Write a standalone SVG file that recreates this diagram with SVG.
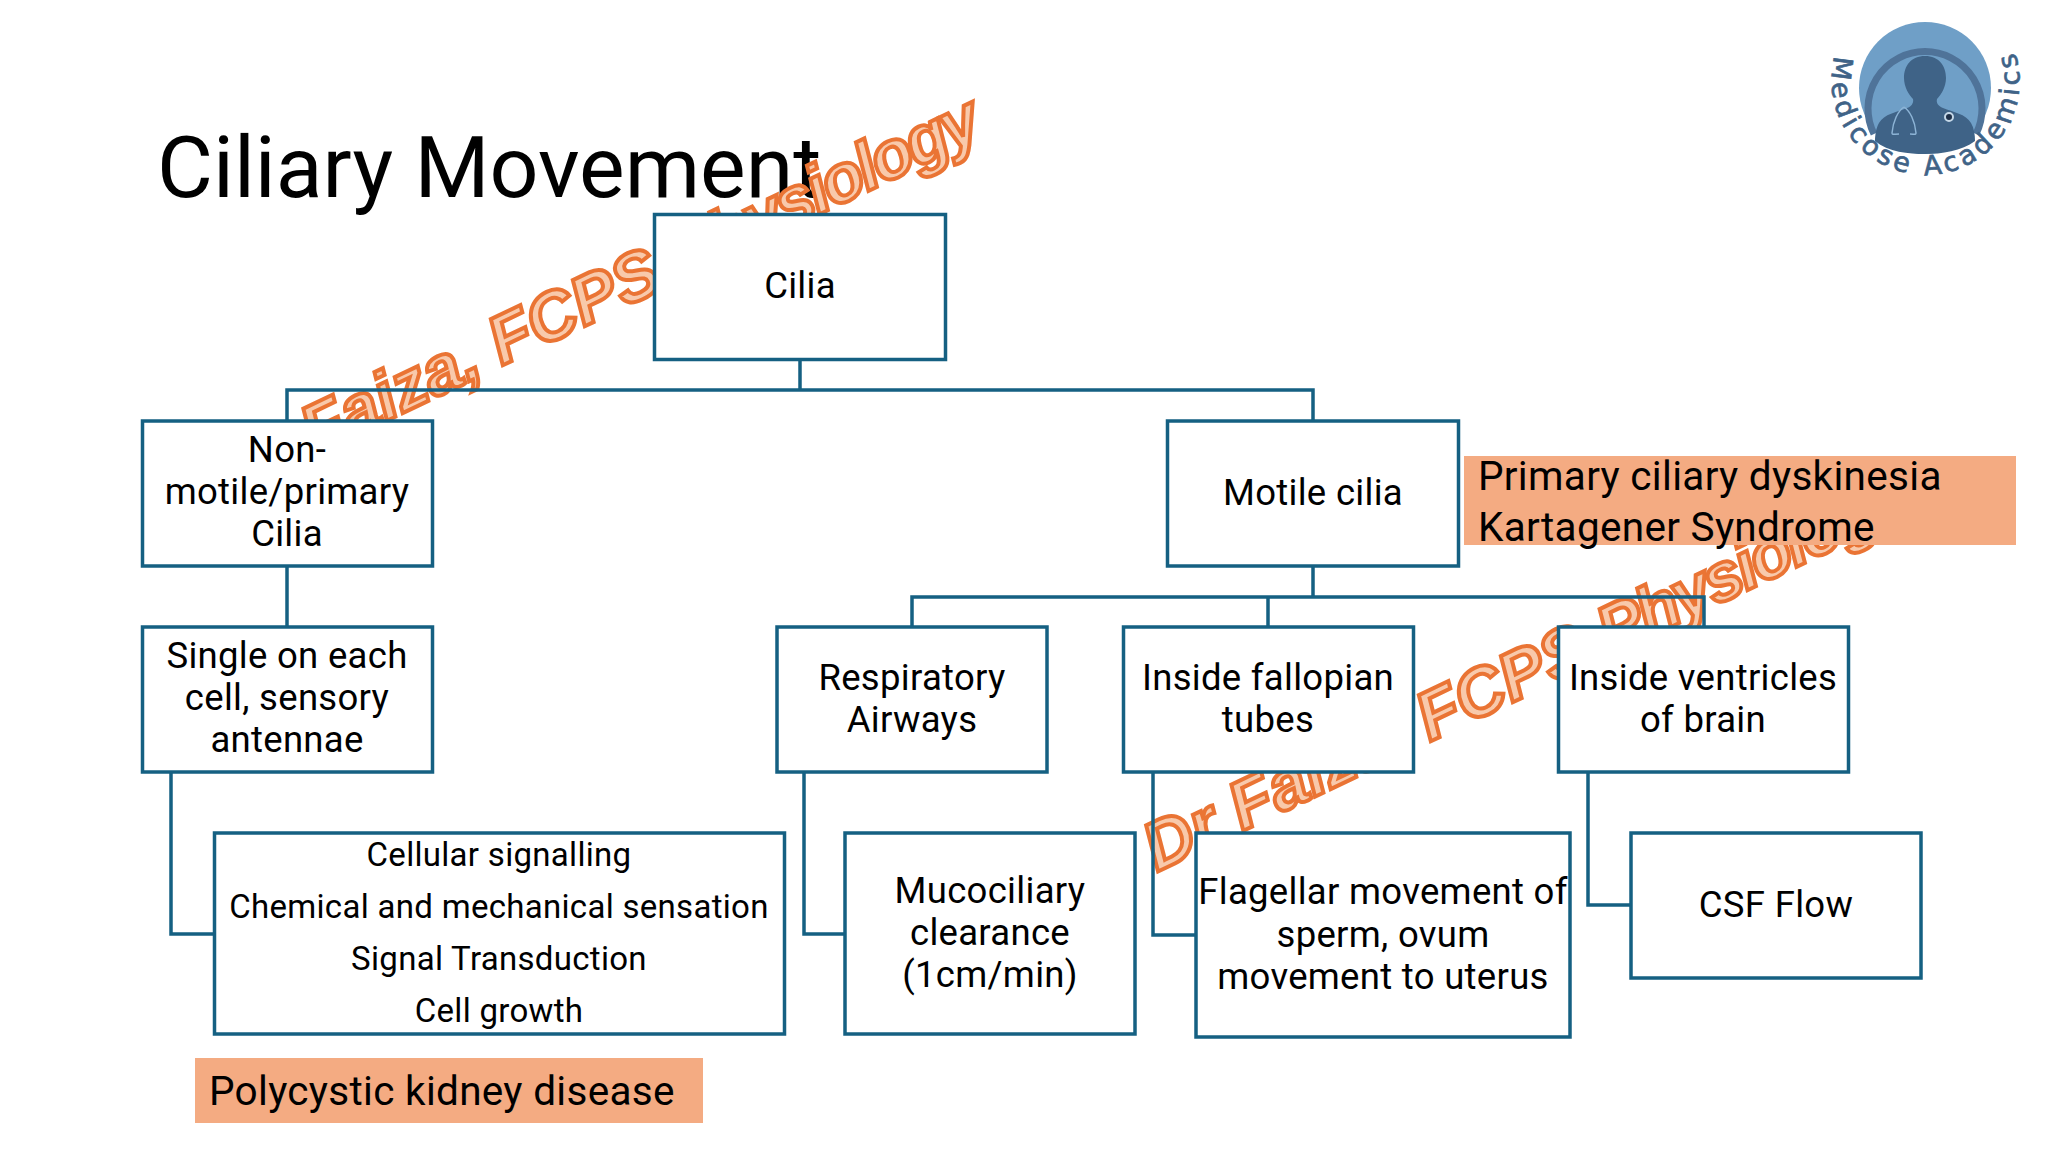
<svg xmlns="http://www.w3.org/2000/svg" width="2048" height="1152" viewBox="0 0 2048 1152">
<style>
.t{font-family:Roboto,"Liberation Sans",sans-serif;fill:#000;text-anchor:middle;font-size:36.5px;letter-spacing:.3px;transform:translateY(1px)}
.s{font-size:33px}
.l{text-anchor:start;font-size:40.5px}
.b{fill:#fff;stroke:#156082;stroke-width:3.5}
.c{fill:none;stroke:#156082;stroke-width:3.5}
.w{font-family:"Liberation Sans",Arial,sans-serif;font-weight:bold;font-style:italic;font-size:68px;fill:#f8c9ab;stroke:#ea7434;stroke-width:4}
.p{letter-spacing:-3px}
.h{fill:#f4ab82}
</style>
<rect width="2048" height="1152" fill="#fff"/>
<text class="t" x="157" y="196" style="text-anchor:start;font-size:86px;letter-spacing:0">Ciliary Movement</text>
<g id="watermarks">
<text class="w" transform="translate(229 496) rotate(-25.5)">Dr Faiza, FCPS <tspan class="p">Physiology</tspan></text>
<text class="w" transform="translate(1157 872) rotate(-25.5)">Dr Faiza, FCPS <tspan class="p">Physiology</tspan></text>
</g>
<g id="connectors">
<path class="c" d="M800 359V390M287 421V390H1313V421"/>
<path class="c" d="M287 566V627"/>
<path class="c" d="M1313 566V597M912 627V597H1704V627M1268 597V627"/>
<path class="c" d="M171 772V934H214"/>
<path class="c" d="M804 772V934H845"/>
<path class="c" d="M1153 772V935H1196"/>
<path class="c" d="M1588 772V905H1631"/>
</g>
<g id="cilia"><rect class="b" x="654.500" y="214.500" width="291" height="145"/><text class="t" x="800" y="297">Cilia</text></g>
<g id="non-motile"><rect class="b" x="142.500" y="421" width="290" height="145"/><text class="t" x="287" y="461">Non-</text><text class="t" x="287" y="503">motile/primary</text><text class="t" x="287" y="545">Cilia</text></g>
<g id="motile"><rect class="b" x="1167.500" y="421" width="291" height="145"/><text class="t" x="1313" y="504">Motile cilia</text></g>
<g id="single"><rect class="b" x="142.500" y="627" width="290" height="145"/><text class="t" x="287" y="667">Single on each</text><text class="t" x="287" y="709">cell, sensory</text><text class="t" x="287" y="751">antennae</text></g>
<g id="respiratory"><rect class="b" x="777" y="627" width="270" height="145"/><text class="t" x="912" y="689">Respiratory</text><text class="t" x="912" y="731">Airways</text></g>
<g id="fallopian"><rect class="b" x="1123.500" y="627" width="290" height="145"/><text class="t" x="1268" y="689">Inside fallopian</text><text class="t" x="1268" y="731">tubes</text></g>
<g id="ventricles"><rect class="b" x="1558.500" y="627" width="290" height="145"/><text class="t" x="1703" y="689">Inside ventricles</text><text class="t" x="1703" y="731">of brain</text></g>
<g id="functions"><rect class="b" x="214.500" y="833" width="570" height="201"/><text class="t s" x="499" y="865">Cellular signalling</text><text class="t s" x="499" y="917">Chemical and mechanical sensation</text><text class="t s" x="499" y="969">Signal Transduction</text><text class="t s" x="499" y="1021">Cell growth</text></g>
<g id="mucociliary"><rect class="b" x="845" y="833" width="290" height="201"/><text class="t" x="990" y="902">Mucociliary</text><text class="t" x="990" y="944">clearance</text><text class="t" x="990" y="986">(1cm/min)</text></g>
<g id="flagellar"><rect class="b" x="1196" y="833" width="374" height="204"/><text class="t" x="1383" y="903">Flagellar movement of</text><text class="t" x="1383" y="946">sperm, ovum</text><text class="t" x="1383" y="988">movement to uterus</text></g>
<g id="csf"><rect class="b" x="1631" y="833" width="290" height="145"/><text class="t" x="1776" y="916">CSF Flow</text></g>
<g id="dyskinesia"><rect class="h" x="1464" y="456" width="552" height="89"/><text class="t l" x="1478" y="489">Primary ciliary dyskinesia</text><text class="t l" x="1478" y="540">Kartagener Syndrome</text></g>
<g id="polycystic"><rect class="h" x="195" y="1058" width="508" height="65"/><text class="t l" x="209" y="1104">Polycystic kidney disease</text></g>
<g id="logo">
<circle cx="1925" cy="88" r="66" fill="#6f9fc7"/>
<path d="M1874 134A57 57 0 1 1 1976 134" fill="none" stroke="#4f7399" stroke-width="7"/>
<path d="M1925 56c-14 0-21 10-21 22 0 9 5 17 9 21 1 4-2 8-6 9-10 4-23 6-28 15-3 5-4 13-4 18 13 11 34 13 50 13s37-3 50-13c0-6-1-13-4-18-5-9-18-11-28-15-5-2-7-5-6-9 4-4 9-12 9-21 0-12-7-22-21-22z" fill="#3f6387"/>
<path d="M1904 107c-6 4-11 14-12 26 0 2 2 1 7 1M1904 107c6 4 11 14 12 26 0 2-2 1-6 1" fill="none" stroke="#8db4d6" stroke-width="1.5"/>
<circle cx="1949" cy="117" r="4" fill="#1f3048" stroke="#c5d8e8" stroke-width="2"/>
<path id="logoarc" d="M1835 56A94 94 0 1 0 2016 55" fill="none"/>
<text font-family="DejaVu Sans,sans-serif" font-size="27" fill="#3f6387" stroke="#3f6387" stroke-width=".7" letter-spacing="4"><textPath href="#logoarc">Medicose Academics</textPath></text>
</g>
</svg>
